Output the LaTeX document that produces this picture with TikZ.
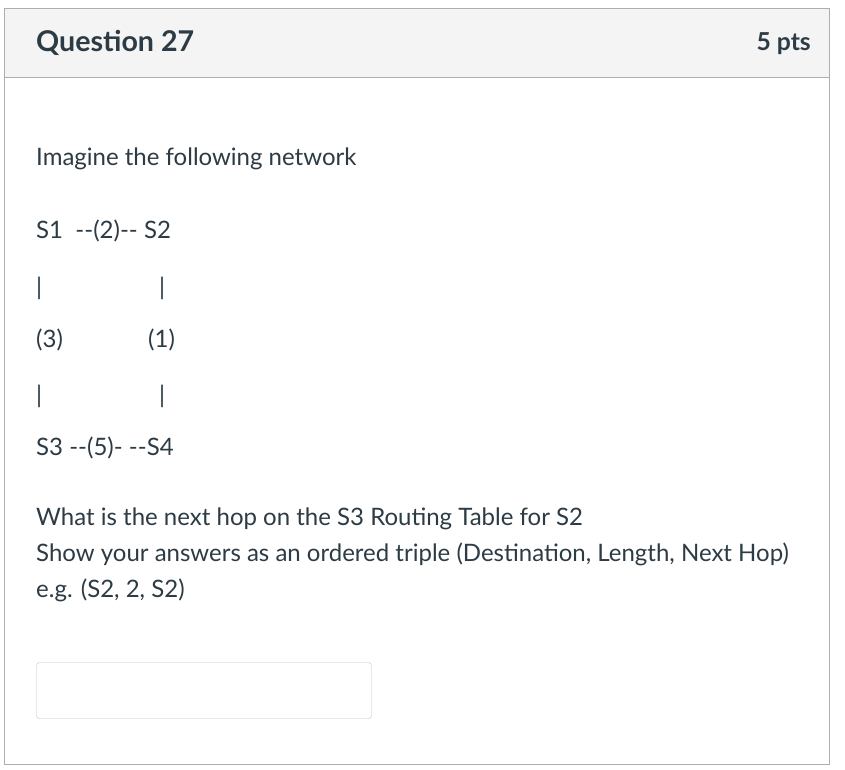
\documentclass[tikz,border=0pt]{standalone}
\usepackage{fontspec}
\newfontfamily\lato{Lato}
\definecolor{ink}{HTML}{2D3B45}
\definecolor{rule}{HTML}{AEAEAE}
\definecolor{headbg}{HTML}{F4F4F4}
\definecolor{boxline}{HTML}{BFC3C7}
\tikzset{
  txt/.style={anchor=west, inner sep=0pt, text=ink, font=\lato\fontsize{24}{28}\selectfont},
  head/.style={txt, font=\lato\bfseries\fontsize{28.6}{32}\selectfont}
}
\begin{document}
\begin{tikzpicture}[x=1pt, y=-1pt]
    \useasboundingbox (0,0) rectangle (845,770);
    \fill[white] (0,0) rectangle (845,770);

    \fill[headbg] (4.5,8.5) rectangle (829.5,77);
    \draw[rule] (4.5,8.5) rectangle (829.5,764.5);
    \draw[rule] (4.5,77) -- (829.5,77);
    \node[head] (qtitle) at (36,43) {Question 27};
    \node[head, anchor=east, font=\lato\bfseries\fontsize{24.7}{28}\selectfont] (pts) at (811,44) {5 pts};

    \node[txt] (intro) at (36,159) {Imagine the following network};

    \node[txt] (top) at (36,231) {S1\ \ --(2)-- S2};
    \node[txt] (barA) at (36,288) {|};
    \node[txt] (barB) at (159,288) {|};
    \node[txt] (w3) at (36,340) {(3)};
    \node[txt] (w1) at (148,340) {(1)};
    \node[txt] (barC) at (36,396) {|};
    \node[txt] (barD) at (159,396) {|};
    \node[txt] (bottom) at (36,448) {S3 --(5)- --S4};

    \node[txt] (ask) at (36,519) {What is the next hop on the S3 Routing Table for S2};
    \node[txt] (how) at (36,554) {Show your answers as an ordered triple (Destination, Length, Next Hop)};
    \node[txt] (eg) at (36,590) {e.g. (S2, 2, S2)};

    \draw[boxline, rounded corners=3pt] (36.5,662.5) rectangle (371.5,718.5);
\end{tikzpicture}
\end{document}
